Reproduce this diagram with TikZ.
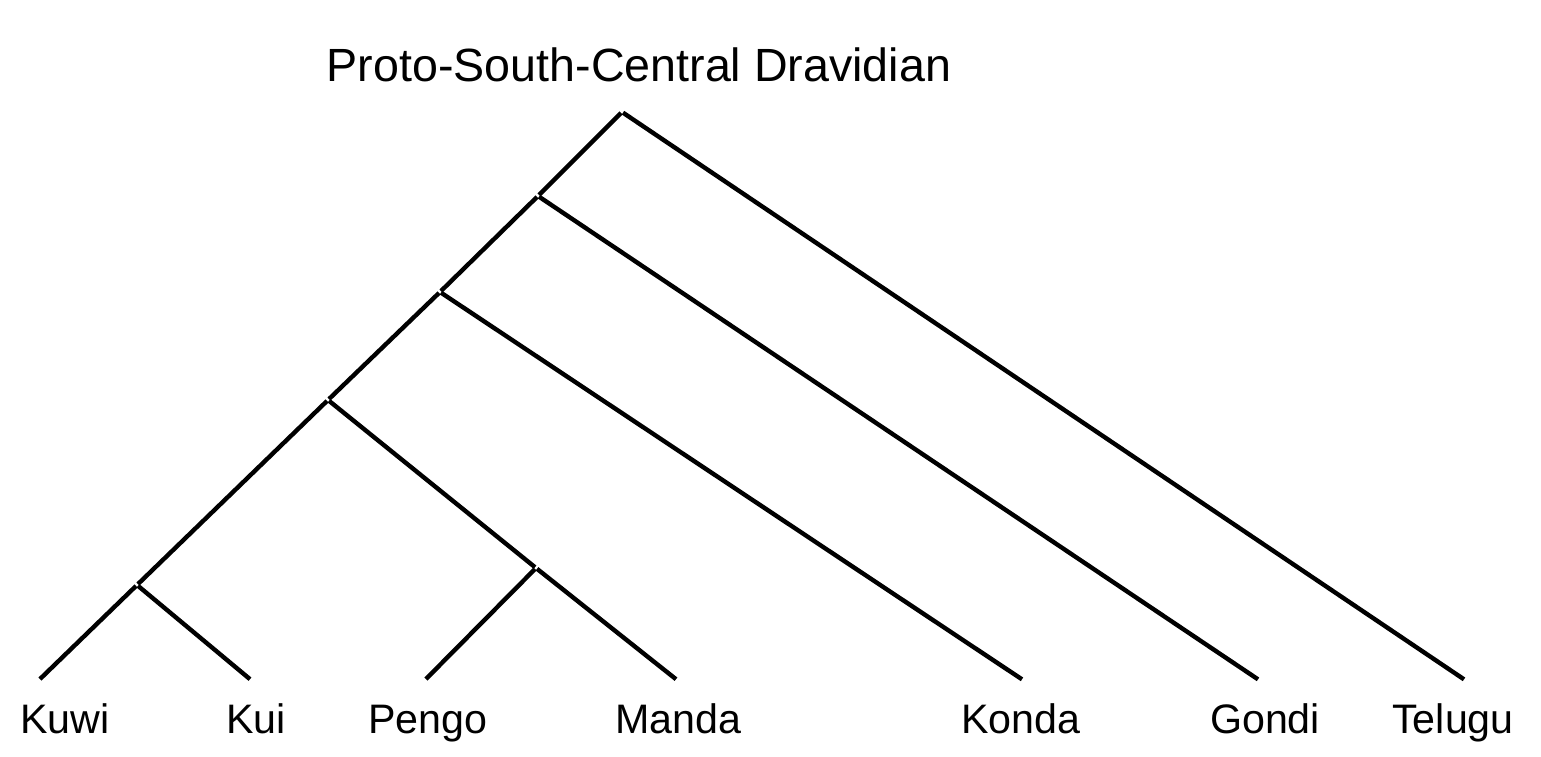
\documentclass[tikz,border=0pt]{standalone}
\usepackage{fontspec}
\setmainfont{Liberation Sans}
\begin{document}
\begin{tikzpicture}[x=0.5pt,y=-0.5pt,line width=2.2pt]
\tikzset{lang/.style={anchor=base,inner sep=0pt,font=\fontsize{20.6}{24}\selectfont},
  pt/.style={inner sep=0pt,outer sep=0pt}}
\useasboundingbox (0,0) rectangle (1541,756);
% branching points
\draw 	(622,112) node[pt](root){}   (538,196) node[pt](n1){}
  		(440,292) node[pt](n2){}     (328,400) node[pt](n3){}
		(137,585) node[pt](n4){}     (536,568) node[pt](n5){};
% leaf ends
\draw 	(39,680) node[pt](e1){}   (251,680) node[pt](e2){}
		(425,680) node[pt](e3){}  (677,680) node[pt](e4){}
		(1023,680) node[pt](e5){} (1259,680) node[pt](e6){}
		(1465,680) node[pt](e7){};
\path[-]
    (root) edge node {} (n1)
    (root) edge node {} (e7)
    (n1) edge node {} (n2)
    (n1) edge node {} (e6)
    (n2) edge node {} (n3)
    (n2) edge node {} (e5)
    (n3) edge node {} (n4)
    (n3) edge node {} (n5)
    (n4) edge node {} (e1)
    (n4) edge node {} (e2)
    (n5) edge node {} (e3)
    (n5) edge node {} (e4);
% labels
\node[lang,font=\fontsize{23.3}{28}\selectfont] (top) at (639,81) {Proto-South-Central Dravidian};
\node[lang] (kuwi) at (65,733) {Kuwi};
\node[lang] (kui) at (256,733) {Kui};
\node[lang] (pengo) at (428,733) {Pengo};
\node[lang] (manda) at (678,733) {Manda};
\node[lang] (konda) at (1021,733) {Konda};
\node[lang] (gondi) at (1265,733) {Gondi};
\node[lang] (telugu) at (1453,733) {Telugu};
\end{tikzpicture}
\end{document}
